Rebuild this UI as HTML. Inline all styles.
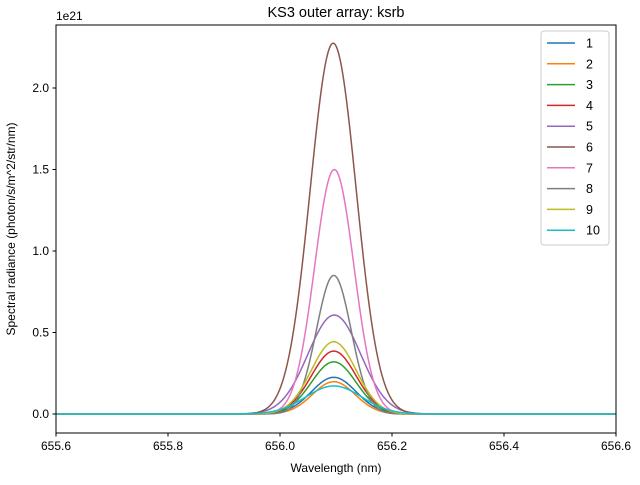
<!DOCTYPE html>
<html><head><meta charset="utf-8"><style>
body{margin:0;background:#fff;font-family:"Liberation Sans",sans-serif}
text{font-family:"Liberation Sans",sans-serif;fill:#000}
</style></head><body>
<svg id="c" width="640" height="480" xmlns="http://www.w3.org/2000/svg"></svg>
<script>
const seriesNames=["1","2","3","4","5","6","7","8","9","10"];
const peaks=[0.225,0.198,0.32,0.386,0.607,2.275,1.5,0.85,0.443,0.172];
const sigmas=[0.040,0.038,0.040,0.040,0.047,0.041,0.035,0.031,0.040,0.050];
const centers=[656.096,656.096,656.096,656.096,656.097,656.095,656.097,656.096,656.096,656.096];
const colors=["#1f77b4","#ff7f0e","#2ca02c","#d62728","#9467bd","#8c564b","#e377c2","#7f7f7f","#bcbd22","#17becf"];
const xTicks=[655.6,655.8,656.0,656.2,656.4,656.6];
const yTicks=[0,0.5,1.0,1.5,2.0];
const L=56,R=616,T=25,B=433;
const xS=v=>L+(v-655.6)/1.0*(R-L);
const yS=v=>414-v*163;
const svg=document.getElementById('c');const NS="http://www.w3.org/2000/svg";
function mk(t,a,p){const e=document.createElementNS(NS,t);for(const k in a)e.setAttribute(k,a[k]);(p||svg).appendChild(e);return e;}
const title=mk('text',{x:336,y:17,'text-anchor':'middle','font-size':14.5});title.textContent="KS3 outer array: ksrb";


const cp=mk('clipPath',{id:'cp'});mk('rect',{x:L,y:T,width:R-L,height:B-T},cp);
const g=mk('g',{'clip-path':'url(#cp)'});
seriesNames.forEach((n,i)=>{let d="";for(let k=0;k<=600;k++){const x=655.6+k/600;const v=peaks[i]*Math.exp(-0.5*((x-centers[i])/sigmas[i])**2);d+=(k?"L":"M")+xS(x).toFixed(2)+","+yS(v).toFixed(2);}
const p=mk('path',{d:d,fill:'none',stroke:colors[i],'stroke-width':1.5},g);

});
const fr=mk('rect',{x:L,y:T,width:R-L,height:B-T,fill:'none',stroke:'#000','stroke-width':1});


xTicks.forEach(v=>{const x=xS(v);mk('line',{x1:x,x2:x,y1:B,y2:B+3.5,stroke:'#000'});const t=mk('text',{x:x,y:B+17,'text-anchor':'middle','font-size':12});t.textContent=v.toFixed(1);

});
yTicks.forEach(v=>{const y=yS(v);mk('line',{x1:L,x2:L-3.5,y1:y,y2:y,stroke:'#000'});const t=mk('text',{x:L-7,y:y+4,'text-anchor':'end','font-size':12});t.textContent=v.toFixed(1);

});
const oe=mk('text',{x:L,y:20,'font-size':12});oe.textContent="1e21";


const xl=mk('text',{x:336,y:472,'text-anchor':'middle','font-size':12});xl.textContent="Wavelength (nm)";


const yl=mk('text',{x:15,y:229,'text-anchor':'middle','font-size':12,transform:'rotate(-90 15 229)'});yl.textContent="Spectral radiance (photon/s/m^2/str/nm)";


const lg=mk('g',{});

mk('rect',{x:541,y:31,width:68,height:214,fill:'#fff',stroke:'#ccc',rx:3},lg);
seriesNames.forEach((n,i)=>{const y=43+i*20.8;mk('line',{x1:547,x2:575,y1:y,y2:y,stroke:colors[i],'stroke-width':1.5},lg);const t=mk('text',{x:586,y:y+4.5,'font-size':12.5},lg);t.textContent=n;

});
</script>
</body></html>
